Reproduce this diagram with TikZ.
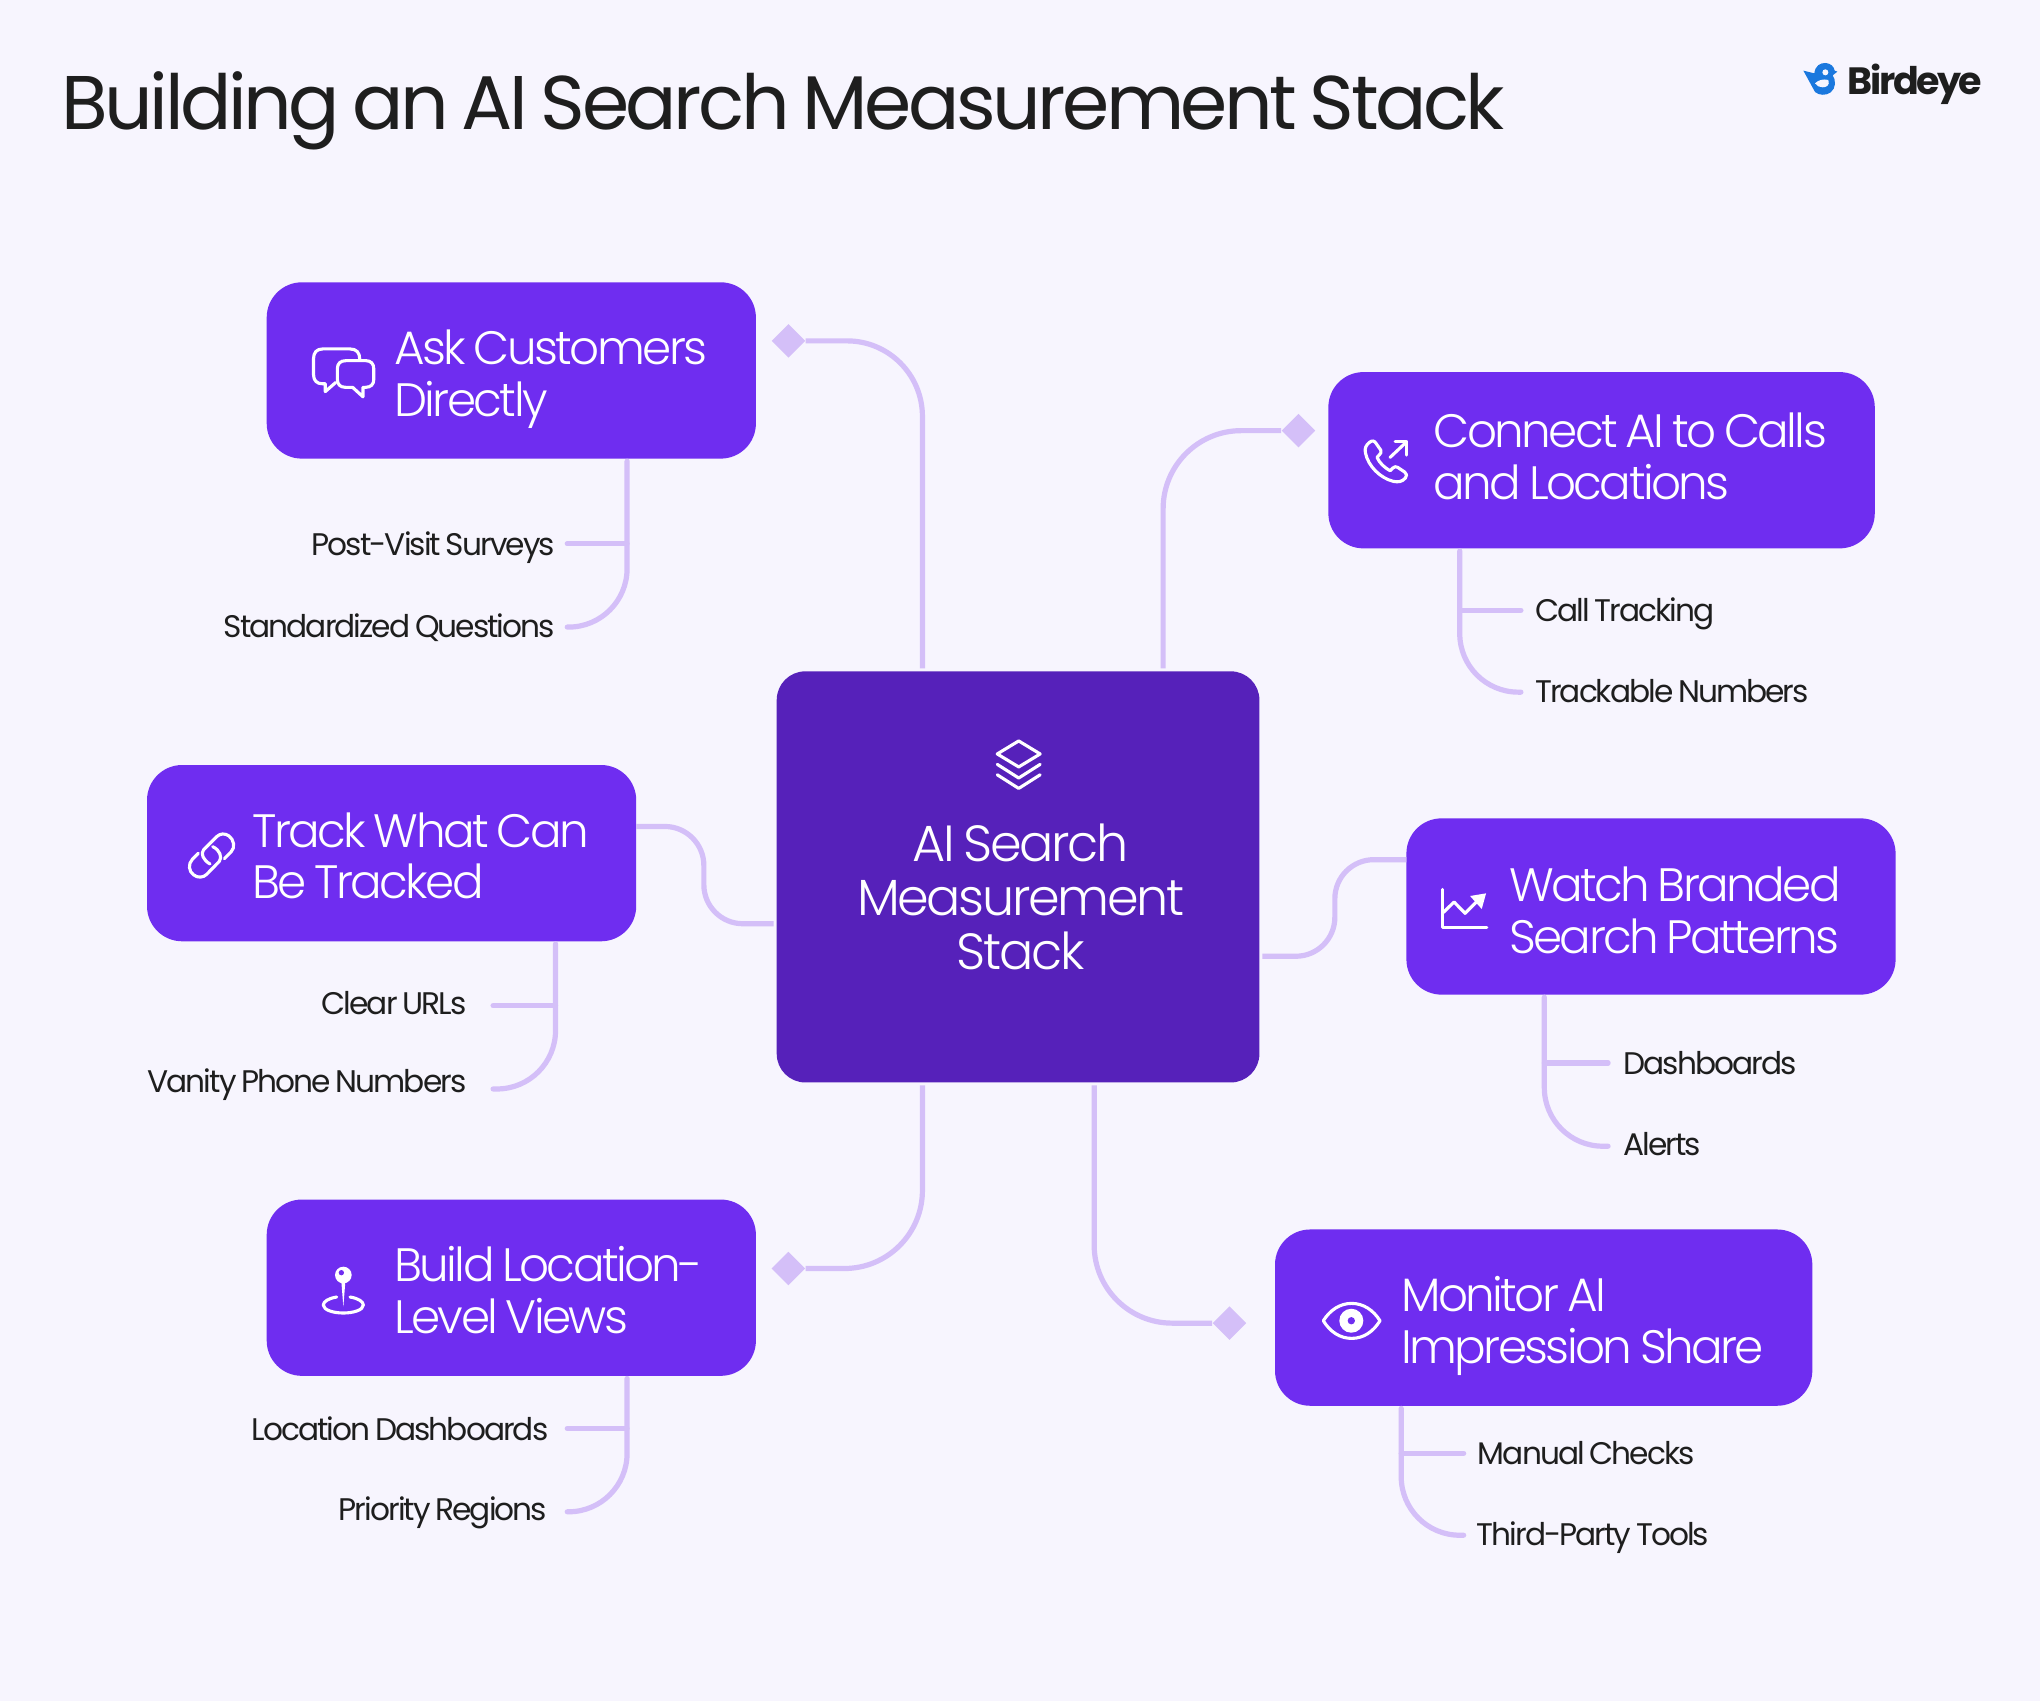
\documentclass[tikz,border=0pt]{standalone}
\usepackage{fontspec}
\usetikzlibrary{shapes.geometric}
\newfontfamily\popL[LetterSpace=-5.5,WordSpace=0.75]{Poppins Light}
\newfontfamily\popH[LetterSpace=-4.7,WordSpace=0.75]{Poppins Light}
\newfontfamily\popS[LetterSpace=-6.3,WordSpace=0.75]{Poppins}
\newfontfamily\popR[LetterSpace=-4.6,WordSpace=0.75]{Poppins}
\newfontfamily\popB[LetterSpace=-6.5]{Poppins Bold}
\newlength\uux \setlength\uux{0.65pt}
\definecolor{pagebg}{HTML}{F7F5FE}
\definecolor{boxc}{HTML}{6F2DF0}
\definecolor{hubc}{HTML}{5621BA}
\definecolor{linec}{HTML}{D4BFF8}
\definecolor{inkc}{HTML}{1E1E1E}
\definecolor{logoc}{HTML}{1B78DE}
\newcommand\twolines[3]{\hspace*{#1\uux}#2\\\hspace*{#1\uux}#3}
\newcommand\hubline[1]{\hspace*{4\uux}#1}
\newcommand\subtree[3]{\draw[conn] (#2) -- (#2 -| #1);\draw[conn,rounded corners=45\uux] (#1) -- (#1 |- #3) -- (#3);}
\tikzset{
  panel/.style={anchor=north west,xshift=-2\uux,yshift=2\uux,fill=boxc,text=white,rounded corners=27\uux,align=flush left,inner xsep=0pt,inner ysep=0pt,outer sep=2\uux,minimum height=135.5\uux,text height=10pt,text depth=15.9pt,font=\popL\fontsize{23.4}{25.7}\selectfont},
  hubbox/.style={anchor=north west,xshift=-2.3\uux,yshift=2.3\uux,fill=hubc,text=white,rounded corners=22\uux,align=center,inner sep=0pt,outer sep=2.3\uux,minimum width=371\uux,minimum height=316\uux,font=\popH\fontsize{25.4}{27}\selectfont},
  conn/.style={draw=linec,line width=4\uux,line cap=round,line join=round},
  mainconn/.style={conn,line cap=butt},
  marker/.style={diamond,aspect=1,fill=linec,inner sep=0pt,minimum width=26\uux,minimum height=26\uux},
  sublabel/.style={inner sep=0pt,text=inkc,text height=13pt,text depth=1.4pt,font=\popS\fontsize{15.6}{18}\selectfont},
  sublabL/.style={sublabel,anchor=east,outer xsep=#1\uux},
  sublabR/.style={sublabel,anchor=west,outer xsep=#1\uux},
  icn/.style={draw=white,line width=2.4\uux,line cap=round,line join=round},
  iconscope/.style={x=0.2562\uux,y=-0.2562\uux}
}
\begin{document}
\begin{tikzpicture}[x=0.65pt,y=-0.65pt]
\useasboundingbox (0,0) rectangle (1568,1307.5);
\fill[pagebg] (0,0) rectangle (1568,1307.5);
% title and logo
\node[anchor=west,inner sep=0pt,text=inkc,font=\popR\fontsize{38}{44}\selectfont] (title) at (47,85) {Building an AI Search Measurement Stack};
\node[anchor=west,inner sep=0pt,text=inkc,font=\popB\fontsize{19}{22}\selectfont] (brand) at (1420,65) {Birdeye};
\begin{scope}[shift={(1352.8,23.06)},iconscope]
\fill[logoc] (130,122) -- (163,130) .. controls (165,108) and (180,98) .. (197,99) .. controls (212,100) and (222,110) .. (224,122) -- (232,125) -- (218,136) .. controls (228,150) and (228,175) .. (212,187) .. controls (198,197) and (178,197) .. (165,186) -- cycle;
\fill[pagebg] (196,127) circle (9);
\fill[pagebg] (165,160) .. controls (175,150) and (190,146) .. (205,150) .. controls (210,165) and (200,172) .. (188,172) .. controls (178,172) and (170,168) .. (165,160) -- cycle;
\end{scope}
% boxes
\node[hubbox] (hub) at (597,516) {\mbox{}\\[18\uux]\hubline{AI Search}\\\hubline{Measurement}\\\hubline{Stack}};
\node[panel,text width=376\uux] (ask) at (205,217) {\twolines{98}{Ask Customers}{Directly}};
\node[panel,text width=420\uux,text depth=22.3pt] (connect) at (1021,286) {\twolines{81}{Connect AI to Calls}{and Locations}};
\node[panel,text width=376\uux] (track) at (113,588) {\twolines{81}{Track What Can}{Be Tracked}};
\node[panel,text width=376\uux,text depth=14.6pt] (watch) at (1081,629) {\twolines{79}{Watch Branded}{Search Patterns}};
\node[panel,text width=376\uux] (build) at (205,922) {\twolines{98}{Build Location-}{Level Views}};
\node[panel,text width=413\uux] (monitor) at (980,945) {\twolines{97}{Monitor AI}{Impression Share}};
% markers
\node[marker] (mAsk) at (606,262) {};
\node[marker] (mConnect) at (998,331) {};
\node[marker] (mBuild) at (606,975) {};
\node[marker] (mMonitor) at (945,1017) {};
% sub labels
\node[sublabL=9.5] (postv) at (436,418) {Post-Visit Surveys};
\node[sublabL=9.5] (stdq) at (436,481) {Standardized Questions};
\node[sublabR=11] (calltr) at (1169,469) {Call Tracking};
\node[sublabR=11] (tracknum) at (1169,531) {Trackable Numbers};
\node[sublabL=20.5] (urls) at (379,771) {Clear URLs};
\node[sublabL=20.5] (vanity) at (379,831) {Vanity Phone Numbers};
\node[sublabR=12] (dash) at (1236,817) {Dashboards};
\node[sublabR=12] (alerts) at (1236,879) {Alerts};
\node[sublabL=14.5] (locd) at (436,1098) {Location Dashboards};
\node[sublabL=15.5] (prio) at (436,1160) {Priority Regions};
\node[sublabR=11] (manual) at (1125,1117) {Manual Checks};
\node[sublabR=10] (third) at (1125,1179) {Third-Party Tools};
% main connector anchors
\coordinate (hubNA) at ([xshift=-73.5\uux]hub.north);
\coordinate (hubNB) at ([xshift=111.5\uux]hub.north);
\coordinate (hubSA) at ([xshift=-73.5\uux]hub.south);
\coordinate (hubSB) at ([xshift=58.5\uux]hub.south);
\coordinate (hubW) at ([yshift=-36\uux]hub.west);
\coordinate (hubE) at ([yshift=-61\uux]hub.east);
\coordinate (trackE) at ([xshift=-2\uux,yshift=20.5\uux]track.east);
\coordinate (watchW) at ([xshift=2\uux,yshift=36\uux]watch.west);
\coordinate (trackMid) at (541,672);
\coordinate (watchMid) at (1026,698);
% main connectors
\draw[mainconn,rounded corners=58\uux] (mAsk.east) -- (hubNA |- mAsk.east) -- (hubNA);
\draw[mainconn,rounded corners=60\uux] (hubNB) -- (hubNB |- mConnect.west) -- (mConnect.west);
\draw[mainconn,rounded corners=30\uux] (trackE) -- (trackMid |- trackE) -- (trackMid |- hubW) -- (hubW);
\draw[mainconn,rounded corners=30\uux] (hubE) -- (watchMid |- hubE) -- (watchMid |- watchW) -- (watchW);
\draw[mainconn,rounded corners=60\uux] (hubSA) -- (hubSA |- mBuild.east) -- (mBuild.east);
\draw[mainconn,rounded corners=60\uux] (hubSB) -- (hubSB |- mMonitor.west) -- (mMonitor.west);
% branch anchors
\coordinate (askT) at ([xshift=89\uux]ask.south);
\coordinate (connectT) at ([xshift=-109\uux]connect.south);
\coordinate (trackT) at ([xshift=126\uux]track.south);
\coordinate (watchT) at ([xshift=-82\uux]watch.south);
\coordinate (buildT) at ([xshift=89\uux]build.south);
\coordinate (monitorT) at ([xshift=-109.5\uux]monitor.south);
\coordinate (stdqE) at ([yshift=-1\uux]stdq.east);
\coordinate (tracknumE) at ([yshift=-1\uux]tracknum.west);
\coordinate (urlsE) at ([yshift=-2\uux]urls.east);
\coordinate (vanityE) at ([yshift=-6\uux]vanity.east);
\coordinate (alertsE) at ([yshift=-2\uux]alerts.west);
\coordinate (prioE) at ([yshift=-2\uux]prio.east);
\coordinate (thirdE) at ([yshift=-1\uux]third.west);
\subtree{askT}{postv.east}{stdqE}
\subtree{connectT}{calltr.west}{tracknumE}
\subtree{trackT}{urlsE}{vanityE}
\subtree{watchT}{dash.west}{alertsE}
\subtree{buildT}{locd.east}{prioE}
\subtree{monitorT}{manual.west}{thirdE}
% icon: layers
\draw[icn] (783,569.5) -- (799.5,579.5) -- (783,589.5) -- (766.5,579.5) -- cycle;
\draw[icn] (766.5,587.5) -- (783,598) -- (799.5,587.5);
\draw[icn] (766.5,595.5) -- (783,606) -- (799.5,595.5);
% icon: chat
\draw[icn] (276.5,276) .. controls (276.5,271) and (274,268.2) .. (269,268.2) -- (248,268.2) .. controls (243.5,268.2) and (241,271) .. (241,275.5) -- (241,288) .. controls (241,292.5) and (243.5,295) .. (248,295) -- (250,295) -- (250,301) -- (258,294);
\draw[icn] (266,277.2) -- (281,277.2) .. controls (285,277.2) and (287.3,279.5) .. (287.3,283.5) -- (287.3,291.5) .. controls (287.3,295.5) and (285,297.7) .. (281,297.7) -- (279,297.7) -- (279,305) -- (271,297.7) -- (265.5,297.7) .. controls (261.5,297.7) and (259.3,295.5) .. (259.3,291.5) -- (259.3,283.5) .. controls (259.3,279.5) and (261.5,277.2) .. (266,277.2);
% icon: phone
\begin{scope}[shift={(1030,307.5)},iconscope]
\draw[icn] (88,127) .. controls (97,120) and (103,122) .. (108,130) -- (122,150) .. controls (125,156) and (122,160) .. (118,164) -- (111,172) .. controls (118,188) and (132,202) .. (150,212) -- (158,204) .. controls (163,199) and (168,199) .. (173,202) -- (194,216) .. controls (201,221) and (201,228) .. (196,234) .. controls (186,245) and (175,247) .. (160,244) .. controls (120,234) and (84,198) .. (76,158) .. controls (73,145) and (78,135) .. (88,127) -- cycle;
\draw[icn] (150,172) -- (200,125);
\draw[icn] (165,125) -- (200,125) -- (200,165);
\end{scope}
% icon: link
\begin{scope}[shift={(123,614.9)},iconscope]
\draw[icn] (193,176) -- (213,156) .. controls (227,142) and (221,118) .. (207,108) .. controls (195,99) and (180,100) .. (170,110) -- (131,149) .. controls (121,160) and (129,180) .. (150,192);
\draw[icn] (115,160) -- (97,178) .. controls (83,192) and (87,215) .. (100,224) .. controls (113,235) and (130,233) .. (140,223) -- (178,184) .. controls (187,172) and (180,150) .. (158,140);
\end{scope}
% icon: chart
\begin{scope}[shift={(1091.5,668.7)},iconscope]
\draw[icn] (67,58) -- (67,172) -- (200,172);
\draw[icn] (67,130) -- (102,96) -- (135,130) -- (170,95);
\fill[white] (150,78) -- (198,70) -- (185,117) -- cycle;
\end{scope}
% icon: pin
\begin{scope}[shift={(230.6,953.1)},iconscope]
\fill[white] (130,105) circle (25);
\fill[boxc] (124,98) circle (8);
\fill[white] (124,125) -- (136,125) -- (130,200) -- cycle;
\draw[icn] (110,171) .. controls (85,175) and (70,185) .. (70,195) .. controls (70,210) and (100,219) .. (130,219) .. controls (160,219) and (190,210) .. (190,195) .. controls (190,185) and (175,175) .. (150,171);
\end{scope}
% icon: eye
\begin{scope}[shift={(999.2,976.2)},iconscope]
\draw[icn] (70,152) .. controls (90,120) and (120,100) .. (155,100) .. controls (190,100) and (220,120) .. (240,152) .. controls (220,185) and (190,205) .. (155,205) .. controls (120,205) and (90,185) .. (70,152) -- cycle;
\fill[white] (154,152) circle (36);
\fill[boxc] (154,152) circle (11);
\end{scope}
\end{tikzpicture}
\end{document}
